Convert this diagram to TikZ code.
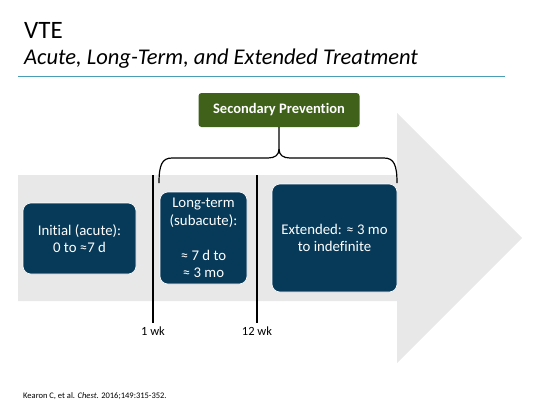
\documentclass[tikz,border=0pt]{standalone}
\usepackage{fontspec}
\setmainfont{Carlito}[Ligatures=NoCommon]
\usetikzlibrary{positioning}

\definecolor{boxblue}{HTML}{073A59}
\definecolor{prevgreen}{HTML}{3F6119}
\definecolor{bandgray}{HTML}{E8E8E8}
\definecolor{ruleteal}{HTML}{4A9DB6}

\begin{document}
\begin{tikzpicture}[x=1pt, y=-1pt,
  phase/.style={rectangle, rounded corners=8pt, fill=boxblue, draw=white,
                line width=0.6pt, text=white, align=center, inner sep=0pt,
                font=\fontsize{14.8}{17.5}\selectfont},
  prevbox/.style={rectangle, rounded corners=3pt, fill=prevgreen, text=white,
                  minimum width=161pt, minimum height=34pt,
                  font=\fontsize{14.5}{16}\selectfont\bfseries},
  tick/.style={line width=1.3pt},
  ticklabel/.style={font=\fontsize{12.5}{14}\selectfont},
  brace/.style={line width=1.2pt}
]
  \useasboundingbox (0,0) rectangle (540,405);

  % Heading
  \node[anchor=base west, inner sep=0pt, font=\fontsize{25}{30}\selectfont]
    (title) at (24,38) {VTE};
  \node[anchor=base west, inner sep=0pt, font=\fontsize{22.5}{28}\selectfont\itshape]
    (subtitle) at (24,64) {Acute, Long-Term, and Extended Treatment};
  \draw[ruleteal, line width=1pt] (18,76) -- (505,76);

  % Timeline arrow
  \fill[bandgray] (18,175) -- (397,175) -- (397,113) -- (522,238)
    -- (397,363) -- (397,301) -- (18,301) -- cycle;

  % Phases
  \node[phase, minimum width=113pt, minimum height=71pt] (initial) at (79.5,238.5)
    {Initial (acute):\\0 to \mbox{≈}7 d};
  \node[phase, minimum width=87pt, minimum height=92pt] (longterm) at (203.5,238)
    {Long-term\\(subacute):\\[17.5pt]≈ 7 d to\\≈ 3 mo};
  \node[phase, minimum width=125pt, minimum height=108pt] (extended) at (334.5,238)
    {Extended: ≈ 3 mo\\to indefinite};

  % Week marks
  \node[ticklabel] (wk1) at (153,331) {1 wk};
  \node[ticklabel] (wk12) at (257,331) {12 wk};
  \coordinate (t1) at (153,175);
  \coordinate (t12) at (257,175);
  \draw[tick] (t1) -- (wk1.north);
  \draw[tick] (t12) -- (wk12.north);

  % Secondary prevention brace
  \node[prevbox] (sec) at (279,110) {Secondary Prevention};
  \coordinate (bl) at (159,183);
  \coordinate (br) at (397,183);
  \coordinate (tip) at (279,149);
  \draw[brace] (bl) .. controls (159,165) and (162,158) .. (172,158)
    -- (268,158) .. controls (275,158) and (279,155) .. (tip) -- (sec.south);
  \draw[brace] (br) .. controls (397,165) and (394,158) .. (384,158)
    -- (290,158) .. controls (283,158) and (279,155) .. (tip);

  % Source
  \node[anchor=base west, inner sep=0pt, font=\fontsize{8.5}{10}\selectfont]
    (source) at (23,398) {Kearon C, et al. \textit{Chest}. 2016;149:315-352.};
\end{tikzpicture}
\end{document}
